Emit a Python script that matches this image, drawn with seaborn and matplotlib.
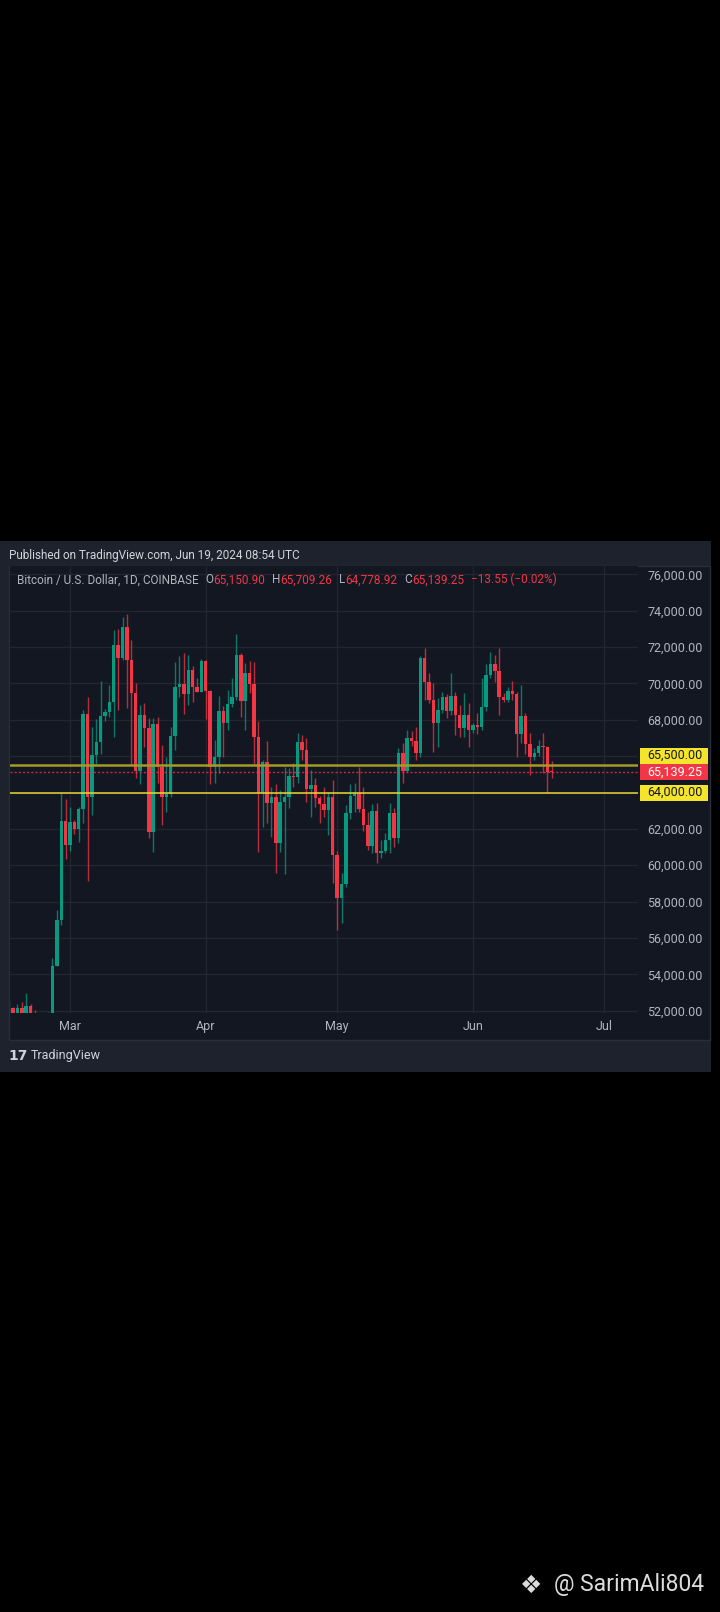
import matplotlib
matplotlib.use("Agg")
import matplotlib.pyplot as plt
import matplotlib.dates as mdates
import numpy as np
import pandas as pd
import seaborn as sns
from matplotlib.patches import Rectangle
from matplotlib.ticker import FuncFormatter

# daily BTC/USD candles, Coinbase
dates = pd.date_range("2024-02-16", "2024-06-19", freq="D")

opens = [
    51900, 52150, 51650, 52150, 51800, 52250, 51850, 51300, 50750, 51550, 51750, 54480, 57000, 62450,
    61130, 62400, 62000, 63100, 68320, 63750, 66050, 66800, 68220, 68450, 68960, 72100, 71380, 73080,
    71290, 69450, 65200, 68260, 67530, 61810, 67770, 65420, 63740, 63920, 67130, 69820, 69950, 69400,
    70740, 69820, 69550,
    71230, 69600, 65420, 65940, 68480, 67800, 68850, 69270, 71560, 69050, 70550, 69970, 67070, 63950,
    65700, 63400, 63730, 61210, 63460, 63770, 64910, 64830, 66800, 66340, 64180, 64410, 63680, 63370,
    63040, 63770,
    60560, 58180, 58970, 62860, 63810, 63950, 63080, 62210, 61060, 63000, 60690, 60800, 61390, 62890,
    61480, 66160, 65200, 66980, 66850, 66160, 71380, 70100, 69090, 67840, 68540, 69230, 68500, 69310,
    68260, 67530, 68260,
    67440, 67710, 67620, 68720, 70460, 71070, 70700, 69230, 69090, 69580, 69420, 67220, 68210, 66670,
    65940, 66160, 66560, 66480, 65150.90,
]
highs = [
    52550, 52200, 52350, 52480, 52950, 52380, 52050, 51550, 51700, 51950, 54900, 57550, 64000, 63650,
    63200, 62480, 63230, 68530, 69250, 67620, 68040, 70150, 68600, 69900, 72930, 72970, 73670, 73820,
    72390, 70000, 68810, 68900, 68080, 68100, 68170, 66610, 65970, 67580, 71200, 71510, 71690, 71560,
    70960, 70280, 71320,
    71300, 69650, 66890, 69310, 68760, 69640, 70280, 72720, 71690, 71100, 71250, 71200, 67950, 65790,
    66850, 64320, 64470, 64140, 65390, 65330, 65600, 67250, 67160, 66980, 65240, 64780, 63800, 64290,
    64050, 64690,
    60800, 59560, 63310, 64470, 64540, 65420, 64320, 62950, 63370, 63400, 61400, 61750, 63400, 63130,
    66430, 66710, 67440, 67400, 67620, 71510, 71930, 70550, 70000, 69200, 69550, 69400, 70550, 69500,
    68810, 69450, 68900,
    67850, 68400, 70280, 71070, 71750, 71560, 71930, 69450, 69790, 70150, 69500, 69910, 68390, 67250,
    66450, 66890, 67250, 66560, 65709.26,
]
lows = [
    51600, 50650, 51200, 51700, 50650, 50900, 50950, 50550, 50600, 51300, 50900, 54450, 56700, 60350,
    60800, 61700, 61300, 62350, 59150, 62780, 65550, 66100, 67950, 68170, 67070, 68540, 71290, 68650,
    65510, 64780, 64470, 66520, 61480, 60710, 64500, 62210, 62950, 63740, 66340, 69230, 68320, 68810,
    69000, 69500, 69500,
    68020, 64450, 64500, 65060, 65970, 67440, 68700, 69100, 68170, 67440, 69490, 65570, 60750, 62090,
    62300, 61570, 59590, 60750, 59520, 63130, 64320, 64500, 65790, 63500, 62670, 63220, 62300, 62670,
    61660, 59010,
    56440, 56840, 58800, 62520, 62950, 62950, 61900, 60840, 60660, 60110, 60380, 60660, 60660, 61020,
    61240, 64540, 65150, 66560, 65790, 65970, 69090, 68900, 66250, 66520, 68400, 68080, 68260, 67160,
    67070, 67070, 66520,
    67300, 67240, 67450, 68500, 70280, 70100, 68260, 69000, 69000, 69100, 65970, 66750, 66120, 64960,
    65800, 66000, 65060, 63960, 64778.92,
]
closes = [
    52150, 51650, 52150, 51800, 52250, 51850, 51300, 50750, 51550, 51750, 54480, 57000, 62450, 61130,
    62400, 62000, 63100, 68320, 63750, 66050, 66800, 68220, 68450, 68960, 72100, 71380, 73080, 71290,
    69450, 65200, 68260, 67530, 61810, 67770, 65420, 63740, 63920, 67130, 69820, 69950, 69400, 70740,
    69820, 69550, 71230,
    69600, 65420, 65940, 68480, 67800, 68850, 69270, 71560, 69050, 70550, 69970, 67070, 63950, 65700,
    63400, 63730, 61210, 63460, 63770, 64910, 64830, 66800, 66340, 64180, 64410, 63680, 63370, 63040,
    63770, 60560,
    58180, 58970, 62860, 63810, 63950, 63080, 62210, 61060, 63000, 60690, 60800, 61390, 62890, 61480,
    66160, 65200, 66980, 66850, 66160, 71380, 70100, 69090, 67840, 68540, 69230, 68500, 69310, 68260,
    67530, 68260, 67440,
    67710, 67620, 68720, 70460, 71070, 70700, 69230, 69090, 69580, 69420, 67220, 68210, 66670, 65940,
    66160, 66560, 66480, 65150.90, 65139.25,
]

price_ticks = list(range(52000, 76001, 2000))
level_high = 65500
level_low = 64000
last_price = 65139.25

title = "Published on TradingView.com, Jun 19, 2024 08:54 UTC"
symbol = "Bitcoin / U.S. Dollar, 1D, COINBASE"
ohlc_parts = [("O", "65,150.90"), ("H", "65,709.26"), ("L", "64,778.92"), ("C", "65,139.25")]
change_text = "\u221213.55 (\u22120.02%)"

BG = "#131722"
PANEL = "#1e222d"
GRID = "#22262f"
TEXT = "#b2b5be"
UP = "#089981"
DOWN = "#f23645"
YELLOW = "#f5e42c"

W, H = 720, 1612


def fx(px):
    return px / W


def fy(py):
    return 1 - py / H


sns.set_theme(style="dark", rc={"axes.facecolor": BG, "figure.facecolor": "black",
                                "grid.color": GRID, "grid.linewidth": 1.0})
plt.rcParams["font.family"] = ["Roboto", "DejaVu Sans"]

fig = plt.figure(figsize=(W / 100, H / 100), dpi=100)

# outer panel + inner frame, behind everything
fig.patches.append(Rectangle((0, fy(1072)), fx(711), (1072 - 541) / H,
                             transform=fig.transFigure, facecolor=PANEL, edgecolor="none",
                             zorder=-10))
fig.patches.append(Rectangle((fx(9), fy(1040)), fx(701), (1040 - 566) / H,
                             transform=fig.transFigure, facecolor=BG, edgecolor="#2a2e39",
                             linewidth=1, zorder=-9))

ax = fig.add_axes([fx(10), fy(1013), fx(628), (1013 - 566) / H])
ax.set_zorder(1)
ax.set_facecolor(BG)

df = pd.DataFrame({"date": dates, "open": opens, "high": highs, "low": lows, "close": closes})
df["x"] = mdates.date2num(df["date"])
df["up"] = df["close"] >= df["open"]
df["colour"] = np.where(df["up"], UP, DOWN)
df["bottom"] = df[["open", "close"]].min(axis=1)
df["body"] = (df["close"] - df["open"]).abs().clip(lower=60)

# wicks then bodies
ax.vlines(df["x"], df["low"], df["high"], colors=df["colour"], linewidth=1, alpha=0.75, zorder=2)
ax.bar(df["x"], df["body"], bottom=df["bottom"], width=0.78, color=df["colour"],
       linewidth=0, zorder=3)

mar1 = mdates.date2num(pd.Timestamp("2024-03-01"))
ax.set_xlim(mar1 - 13.7, mar1 + 129.7)
ax.set_ylim(51876, 76456)

ax.axhline(level_high, color="#a49a26", linewidth=1.8, zorder=4)
ax.axhline(level_low, color="#e8d82e", linewidth=1.1, zorder=4)
ax.axhline(last_price, color=DOWN, linewidth=1, linestyle=(0, (1.5, 1.5)), alpha=0.8, zorder=4)

ax.xaxis.set_major_locator(mdates.MonthLocator())
ax.xaxis.set_major_formatter(mdates.DateFormatter("%b"))
ax.yaxis.tick_right()
ax.set_yticks(price_ticks)
ax.yaxis.set_major_formatter(FuncFormatter(lambda v, p: f"{v:,.2f}"))
ax.tick_params(axis="y", length=0, pad=6.5, labelsize=9, labelcolor=TEXT)
ax.tick_params(axis="x", length=0, pad=5.3, labelsize=9, labelcolor=TEXT)
ax.grid(True, color=GRID, linewidth=1)
for s in ax.spines.values():
    s.set_visible(False)

# price tags on the scale
ylo, yhi = ax.get_ylim()
per_px = (yhi - ylo) / 447


def tag(price, label, face, fg, shift_px=0.0):
    yc = price + shift_px * per_px
    ax.add_patch(Rectangle((1 + 1.5 / 628, yc - 8 * per_px), 68 / 628, 16 * per_px,
                           transform=ax.get_yaxis_transform(), facecolor=face,
                           edgecolor="none", clip_on=False, zorder=6))
    ax.text(1 + 9 / 628, yc, label, transform=ax.get_yaxis_transform(), ha="left",
            va="center", color=fg, fontsize=9, clip_on=False, zorder=7)


tag(level_high, f"{level_high:,.2f}", YELLOW, "#131722", shift_px=9.7)
tag(last_price, f"{last_price:,.2f}", DOWN, "#ffffff")
tag(level_low, f"{level_low:,.2f}", YELLOW, "#131722")

# header
fig.text(fx(9), fy(555), title, ha="left", va="center", color="#d1d4dc", fontsize=8.5)
prev = ax.text(fx(16.7 - 10) / fx(628), 1 - (580 - 566) / 447, symbol, transform=ax.transAxes,
               ha="left", va="center", color=TEXT, fontsize=8.5, zorder=8)
for key, val in ohlc_parts:
    prev = ax.annotate(key, xy=(1, 0), xycoords=prev, xytext=(5, 0), textcoords="offset points",
                       ha="left", va="bottom", color=TEXT, fontsize=8.5, annotation_clip=False,
                       zorder=8)
    prev = ax.annotate(val, xy=(1, 0), xycoords=prev, xytext=(0, 0), textcoords="offset points",
                       ha="left", va="bottom", color=DOWN, fontsize=8.5, annotation_clip=False,
                       zorder=8)
ax.annotate(change_text, xy=(1, 0), xycoords=prev, xytext=(5, 0), textcoords="offset points",
            ha="left", va="bottom", color=DOWN, fontsize=8.5, annotation_clip=False, zorder=8)

# footer logo
fig.text(fx(8), fy(1056), "17", ha="left", va="center", color="#d1d4dc", fontsize=10,
         fontweight="heavy", family=["DejaVu Sans"])
fig.text(fx(31), fy(1056), "TradingView", ha="left", va="center", color="#d1d4dc", fontsize=9)

# watermark
fig.text(fx(520), fy(1586), "\u2756", ha="left", va="center", color="#dcdcdc", fontsize=18,
         family=["DejaVu Sans"])
fig.text(fx(554), fy(1585), "@ SarimAli804", ha="left", va="center", color="#dcdcdc",
         fontsize=16.5)

fig.savefig("out.png", dpi=100, facecolor="black")
